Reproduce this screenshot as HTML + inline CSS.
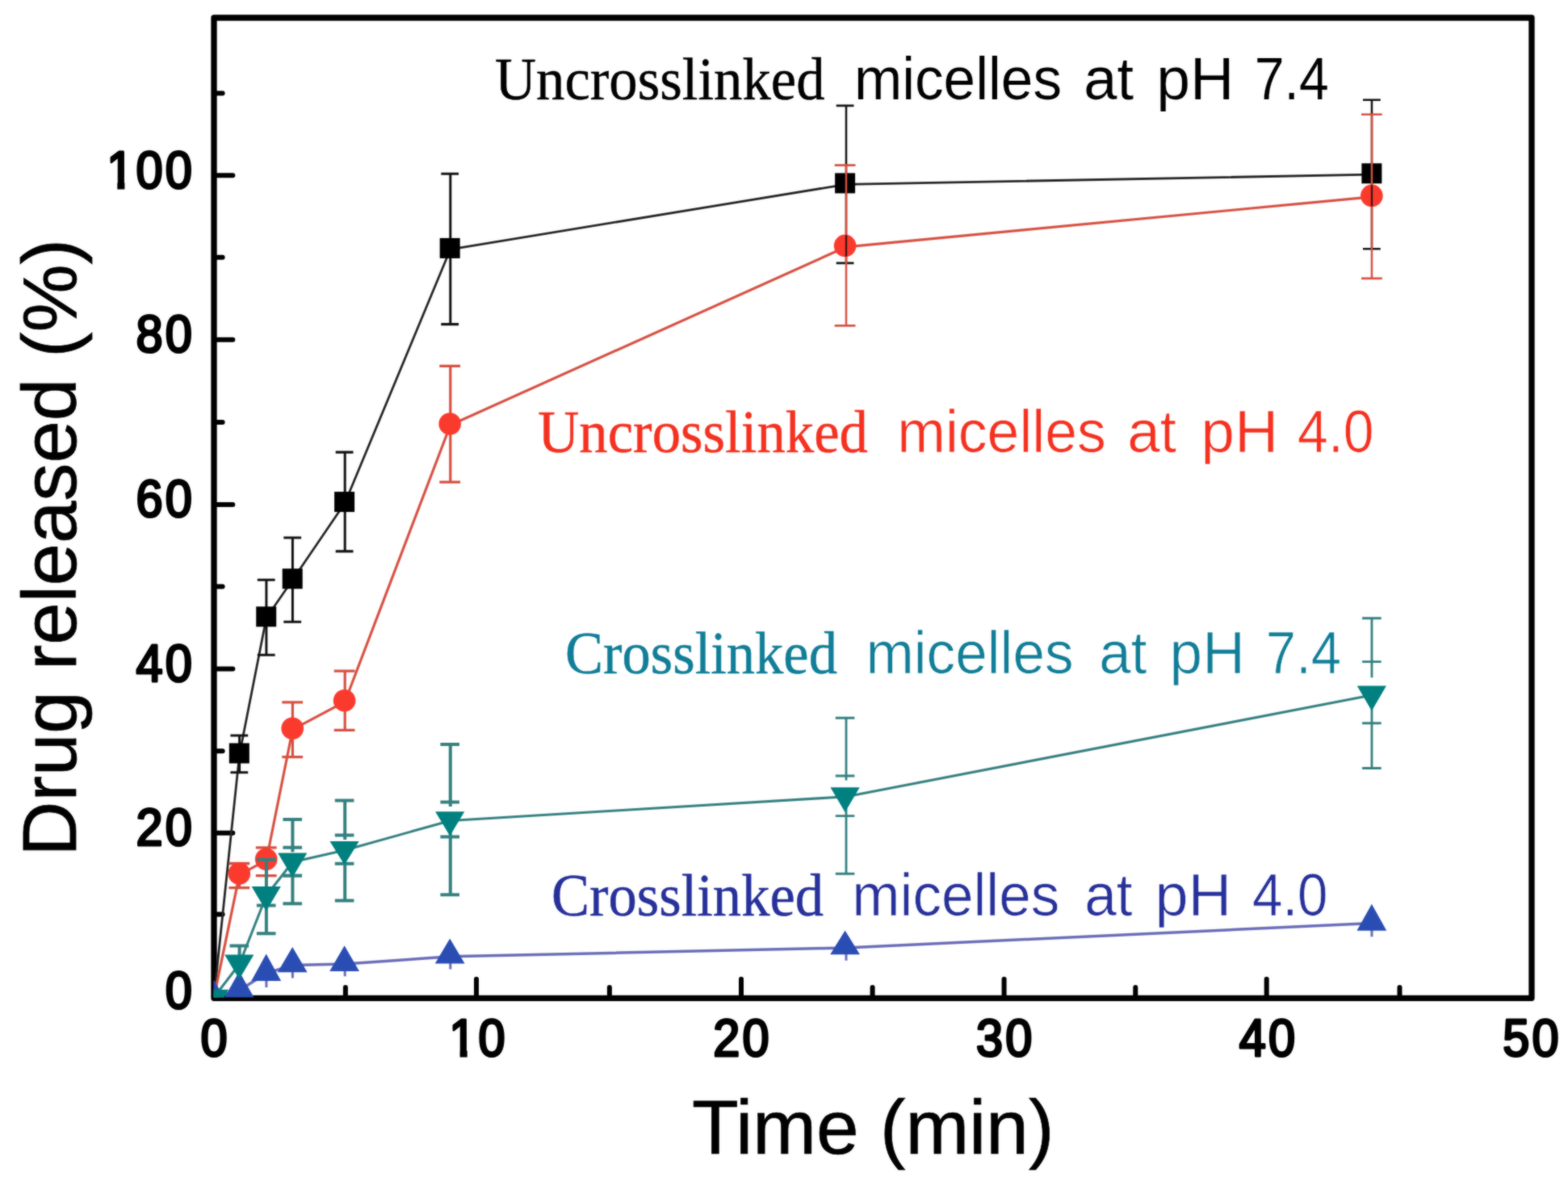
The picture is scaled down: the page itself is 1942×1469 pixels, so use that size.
<!DOCTYPE html>
<html lang="en">
<head>
<meta charset="utf-8">
<title>Drug release profile</title>
<style>
html,body{margin:0;padding:0;background:#fff;}
body{width:1942px;height:1469px;overflow:hidden;}
svg{display:block;}
text{white-space:pre;}
</style>
</head>
<body>
<svg width="1942" height="1469" viewBox="0 0 1942 1469">
<defs><filter id="soft" filterUnits="userSpaceOnUse" x="0" y="0" width="1942" height="1469" color-interpolation-filters="sRGB"><feGaussianBlur stdDeviation="0.8" result="b"/><feComposite in="SourceGraphic" in2="b" operator="arithmetic" k1="0" k2="0.45" k3="0.55" k4="0"/></filter></defs>
<g filter="url(#soft)">
<rect x="0" y="0" width="1942" height="1469" fill="#ffffff"/>
<g id="axes" stroke="#000" fill="none">
<rect x="265.0" y="22.0" width="1632.0" height="1214.3" stroke-width="7.3" stroke-linejoin="round"/>
<line x1="265.0" y1="1031.8" x2="288.3" y2="1031.8" stroke-width="6.0" stroke-linecap="round"/>
<line x1="265.0" y1="828.6" x2="288.3" y2="828.6" stroke-width="6.0" stroke-linecap="round"/>
<line x1="265.0" y1="625.0" x2="288.3" y2="625.0" stroke-width="6.0" stroke-linecap="round"/>
<line x1="265.0" y1="420.8" x2="288.3" y2="420.8" stroke-width="6.0" stroke-linecap="round"/>
<line x1="265.0" y1="217.3" x2="288.3" y2="217.3" stroke-width="6.0" stroke-linecap="round"/>
<line x1="265.0" y1="1132.6" x2="275.6" y2="1132.6" stroke-width="6.0" stroke-linecap="round"/>
<line x1="265.0" y1="930.3" x2="275.6" y2="930.3" stroke-width="6.0" stroke-linecap="round"/>
<line x1="265.0" y1="726.6" x2="275.6" y2="726.6" stroke-width="6.0" stroke-linecap="round"/>
<line x1="265.0" y1="522.9" x2="275.6" y2="522.9" stroke-width="6.0" stroke-linecap="round"/>
<line x1="265.0" y1="318.8" x2="275.6" y2="318.8" stroke-width="6.0" stroke-linecap="round"/>
<line x1="265.0" y1="115.5" x2="275.6" y2="115.5" stroke-width="6.0" stroke-linecap="round"/>
<line x1="590.0" y1="1236.3" x2="590.0" y2="1212.7" stroke-width="6.0" stroke-linecap="round"/>
<line x1="918.0" y1="1236.3" x2="918.0" y2="1212.7" stroke-width="6.0" stroke-linecap="round"/>
<line x1="1243.6" y1="1236.3" x2="1243.6" y2="1212.7" stroke-width="6.0" stroke-linecap="round"/>
<line x1="1568.7" y1="1236.3" x2="1568.7" y2="1212.7" stroke-width="6.0" stroke-linecap="round"/>
<line x1="427.9" y1="1236.3" x2="427.9" y2="1223.0" stroke-width="6.0" stroke-linecap="round"/>
<line x1="754.9" y1="1236.3" x2="754.9" y2="1223.0" stroke-width="6.0" stroke-linecap="round"/>
<line x1="1080.6" y1="1236.3" x2="1080.6" y2="1223.0" stroke-width="6.0" stroke-linecap="round"/>
<line x1="1406.3" y1="1236.3" x2="1406.3" y2="1223.0" stroke-width="6.0" stroke-linecap="round"/>
<line x1="1733.5" y1="1236.3" x2="1733.5" y2="1223.0" stroke-width="6.0" stroke-linecap="round"/>
</g>
<defs><clipPath id="pc"><rect x="264.5" y="0" width="1640" height="1235.4"/></clipPath></defs>
<g id="plot" clip-path="url(#pc)">
<polyline fill="none" stroke="#222222" stroke-width="2.80" stroke-linejoin="round" points="265.0,1235.3 296.6,934.4 329.9,765.2 362.4,718.2 427.2,623.0 557.8,308.8 1048.0,228.3 1699.0,216.2"/>
<polyline fill="none" stroke="#d64f41" stroke-width="3.20" stroke-linejoin="round" points="265.0,1235.3 296.6,1083.4 329.9,1065.7 362.4,903.7 427.2,869.2 557.8,526.5 1048.0,305.8 1699.0,243.8"/>
<polyline fill="none" stroke="#347f7f" stroke-width="3.10" stroke-linejoin="round" points="265.0,1235.3 296.6,1194.0 329.9,1109.3 362.4,1067.8 427.2,1052.9 557.8,1016.5 1048.0,986.7 1699.0,861.1"/>
<polyline fill="none" stroke="#6a6cb8" stroke-width="3.50" stroke-linejoin="round" points="265.0,1235.3 296.6,1226.6 329.9,1205.5 362.4,1195.4 427.2,1194.0 557.8,1184.8 1048.0,1174.0 1699.0,1143.4"/>
<line x1="296.6" y1="911.0" x2="296.6" y2="956.7" stroke="#111111" stroke-width="3.00" stroke-linecap="butt"/>
<line x1="285.4" y1="911.0" x2="307.2" y2="911.0" stroke="#111111" stroke-width="3.10" stroke-linecap="butt"/>
<line x1="285.4" y1="956.7" x2="307.2" y2="956.7" stroke="#111111" stroke-width="3.10" stroke-linecap="butt"/>
<line x1="329.9" y1="718.2" x2="329.9" y2="811.3" stroke="#111111" stroke-width="3.00" stroke-linecap="butt"/>
<line x1="318.8" y1="718.2" x2="340.6" y2="718.2" stroke="#111111" stroke-width="3.10" stroke-linecap="butt"/>
<line x1="318.8" y1="811.3" x2="340.6" y2="811.3" stroke="#111111" stroke-width="3.10" stroke-linecap="butt"/>
<line x1="362.4" y1="666.0" x2="362.4" y2="770.2" stroke="#111111" stroke-width="3.00" stroke-linecap="butt"/>
<line x1="351.3" y1="666.0" x2="373.1" y2="666.0" stroke="#111111" stroke-width="3.10" stroke-linecap="butt"/>
<line x1="351.3" y1="770.2" x2="373.1" y2="770.2" stroke="#111111" stroke-width="3.10" stroke-linecap="butt"/>
<line x1="427.2" y1="560.1" x2="427.2" y2="682.9" stroke="#111111" stroke-width="3.00" stroke-linecap="butt"/>
<line x1="415.7" y1="560.1" x2="437.5" y2="560.1" stroke="#111111" stroke-width="3.10" stroke-linecap="butt"/>
<line x1="415.7" y1="682.9" x2="437.5" y2="682.9" stroke="#111111" stroke-width="3.10" stroke-linecap="butt"/>
<line x1="557.8" y1="215.3" x2="557.8" y2="401.6" stroke="#111111" stroke-width="3.00" stroke-linecap="butt"/>
<line x1="546.3" y1="215.3" x2="568.1" y2="215.3" stroke="#111111" stroke-width="3.10" stroke-linecap="butt"/>
<line x1="546.3" y1="401.6" x2="568.1" y2="401.6" stroke="#111111" stroke-width="3.10" stroke-linecap="butt"/>
<line x1="1048.0" y1="130.9" x2="1048.0" y2="325.9" stroke="#111111" stroke-width="2.50" stroke-linecap="butt"/>
<line x1="1035.7" y1="130.9" x2="1057.5" y2="130.9" stroke="#111111" stroke-width="2.60" stroke-linecap="butt"/>
<line x1="1035.7" y1="325.9" x2="1057.5" y2="325.9" stroke="#111111" stroke-width="2.60" stroke-linecap="butt"/>
<line x1="1699.0" y1="123.8" x2="1699.0" y2="308.3" stroke="#111111" stroke-width="2.50" stroke-linecap="butt"/>
<line x1="1688.0" y1="123.8" x2="1709.8" y2="123.8" stroke="#111111" stroke-width="2.60" stroke-linecap="butt"/>
<line x1="1688.0" y1="308.3" x2="1709.8" y2="308.3" stroke="#111111" stroke-width="2.60" stroke-linecap="butt"/>
<rect x="283.8" y="920.5" width="25.0" height="25.0" fill="#000000"/>
<rect x="317.2" y="751.3" width="25.0" height="25.0" fill="#000000"/>
<rect x="349.7" y="704.3" width="25.0" height="25.0" fill="#000000"/>
<rect x="414.1" y="609.1" width="25.0" height="25.0" fill="#000000"/>
<rect x="544.7" y="294.9" width="25.0" height="25.0" fill="#000000"/>
<rect x="1034.1" y="214.4" width="25.0" height="25.0" fill="#000000"/>
<rect x="1686.4" y="202.3" width="25.0" height="25.0" fill="#000000"/>
<line x1="296.6" y1="1069.5" x2="296.6" y2="1099.6" stroke="#d64f41" stroke-width="3.20" stroke-linecap="butt"/>
<line x1="283.4" y1="1069.5" x2="309.2" y2="1069.5" stroke="#d64f41" stroke-width="3.30" stroke-linecap="butt"/>
<line x1="283.4" y1="1099.6" x2="309.2" y2="1099.6" stroke="#d64f41" stroke-width="3.30" stroke-linecap="butt"/>
<line x1="329.9" y1="1049.8" x2="329.9" y2="1084.6" stroke="#d64f41" stroke-width="3.20" stroke-linecap="butt"/>
<line x1="316.8" y1="1049.8" x2="342.6" y2="1049.8" stroke="#d64f41" stroke-width="3.30" stroke-linecap="butt"/>
<line x1="316.8" y1="1084.6" x2="342.6" y2="1084.6" stroke="#d64f41" stroke-width="3.30" stroke-linecap="butt"/>
<line x1="362.4" y1="869.9" x2="362.4" y2="937.6" stroke="#d64f41" stroke-width="3.20" stroke-linecap="butt"/>
<line x1="349.3" y1="869.9" x2="375.1" y2="869.9" stroke="#d64f41" stroke-width="3.30" stroke-linecap="butt"/>
<line x1="349.3" y1="937.6" x2="375.1" y2="937.6" stroke="#d64f41" stroke-width="3.30" stroke-linecap="butt"/>
<line x1="427.2" y1="831.2" x2="427.2" y2="904.4" stroke="#d64f41" stroke-width="3.20" stroke-linecap="butt"/>
<line x1="413.7" y1="831.2" x2="439.5" y2="831.2" stroke="#d64f41" stroke-width="3.30" stroke-linecap="butt"/>
<line x1="413.7" y1="904.4" x2="439.5" y2="904.4" stroke="#d64f41" stroke-width="3.30" stroke-linecap="butt"/>
<line x1="557.8" y1="453.4" x2="557.8" y2="597.2" stroke="#d64f41" stroke-width="3.20" stroke-linecap="butt"/>
<line x1="544.3" y1="453.4" x2="570.1" y2="453.4" stroke="#d64f41" stroke-width="3.30" stroke-linecap="butt"/>
<line x1="544.3" y1="597.2" x2="570.1" y2="597.2" stroke="#d64f41" stroke-width="3.30" stroke-linecap="butt"/>
<line x1="1048.0" y1="204.6" x2="1048.0" y2="403.4" stroke="#d64f41" stroke-width="2.50" stroke-linecap="butt"/>
<line x1="1033.7" y1="204.6" x2="1059.5" y2="204.6" stroke="#d64f41" stroke-width="2.60" stroke-linecap="butt"/>
<line x1="1033.7" y1="403.4" x2="1059.5" y2="403.4" stroke="#d64f41" stroke-width="2.60" stroke-linecap="butt"/>
<line x1="1699.0" y1="141.8" x2="1699.0" y2="344.9" stroke="#d64f41" stroke-width="2.50" stroke-linecap="butt"/>
<line x1="1686.0" y1="141.8" x2="1711.8" y2="141.8" stroke="#d64f41" stroke-width="2.60" stroke-linecap="butt"/>
<line x1="1686.0" y1="344.9" x2="1711.8" y2="344.9" stroke="#d64f41" stroke-width="2.60" stroke-linecap="butt"/>
<circle cx="296.3" cy="1082.0" r="13.8" fill="#fb3a2e"/>
<circle cx="329.7" cy="1064.3" r="13.8" fill="#fb3a2e"/>
<circle cx="362.2" cy="902.3" r="13.8" fill="#fb3a2e"/>
<circle cx="426.6" cy="867.8" r="13.8" fill="#fb3a2e"/>
<circle cx="557.2" cy="525.1" r="13.8" fill="#fb3a2e"/>
<circle cx="1046.6" cy="304.4" r="13.8" fill="#fb3a2e"/>
<circle cx="1698.9" cy="242.4" r="13.8" fill="#fb3a2e"/>
<line x1="1048.0" y1="291.2" x2="1048.0" y2="317.6" stroke="#3a1210" stroke-width="2.30" stroke-linecap="butt"/>
<line x1="1699.0" y1="229.2" x2="1699.0" y2="255.6" stroke="#3a1210" stroke-width="2.30" stroke-linecap="butt"/>
<polygon points="265.0,1213.8 246.6,1246.3 283.4,1246.3" fill="#2a4db3"/>
<polygon points="296.3,1203.3 277.9,1235.8 314.7,1235.8" fill="#2a4db3"/>
<line x1="329.9" y1="1212.8" x2="329.9" y2="1223.0" stroke="#6a6cb8" stroke-width="3.00" stroke-linecap="butt"/>
<polygon points="329.7,1181.6 311.3,1215.1 348.1,1215.1" fill="#2a4db3"/>
<line x1="362.4" y1="1201.9" x2="362.4" y2="1211.6" stroke="#6a6cb8" stroke-width="3.00" stroke-linecap="butt"/>
<polygon points="362.2,1173.1 343.8,1204.2 380.6,1204.2" fill="#2a4db3"/>
<line x1="427.2" y1="1200.6" x2="427.2" y2="1209.2" stroke="#6a6cb8" stroke-width="3.00" stroke-linecap="butt"/>
<polygon points="426.6,1171.3 408.2,1202.9 445.0,1202.9" fill="#2a4db3"/>
<line x1="557.8" y1="1191.3" x2="557.8" y2="1200.6" stroke="#6a6cb8" stroke-width="3.00" stroke-linecap="butt"/>
<polygon points="557.2,1162.5 538.8,1193.6 575.6,1193.6" fill="#2a4db3"/>
<line x1="1048.0" y1="1180.0" x2="1048.0" y2="1189.8" stroke="#6a6cb8" stroke-width="3.00" stroke-linecap="butt"/>
<polygon points="1046.6,1152.5 1028.2,1182.3 1065.0,1182.3" fill="#2a4db3"/>
<line x1="1699.0" y1="1150.5" x2="1699.0" y2="1160.3" stroke="#6a6cb8" stroke-width="3.00" stroke-linecap="butt"/>
<polygon points="1698.9,1119.8 1680.5,1152.8 1717.3,1152.8" fill="#2a4db3"/>
<line x1="296.6" y1="1171.5" x2="296.6" y2="1182.9" stroke="#347f7f" stroke-width="4.00" stroke-linecap="butt"/>
<line x1="284.5" y1="1171.5" x2="308.1" y2="1171.5" stroke="#347f7f" stroke-width="4.10" stroke-linecap="butt"/>
<line x1="329.9" y1="1064.8" x2="329.9" y2="1098.2" stroke="#347f7f" stroke-width="4.00" stroke-linecap="butt"/>
<line x1="317.9" y1="1064.8" x2="341.5" y2="1064.8" stroke="#347f7f" stroke-width="4.10" stroke-linecap="butt"/>
<line x1="329.9" y1="1123.2" x2="329.9" y2="1156.2" stroke="#347f7f" stroke-width="4.00" stroke-linecap="butt"/>
<line x1="317.9" y1="1156.2" x2="341.5" y2="1156.2" stroke="#347f7f" stroke-width="4.10" stroke-linecap="butt"/>
<line x1="317.9" y1="1121.5" x2="341.5" y2="1121.5" stroke="#347f7f" stroke-width="4.10" stroke-linecap="butt"/>
<line x1="362.4" y1="1015.0" x2="362.4" y2="1055.3" stroke="#347f7f" stroke-width="4.00" stroke-linecap="butt"/>
<line x1="350.4" y1="1015.0" x2="374.0" y2="1015.0" stroke="#347f7f" stroke-width="4.10" stroke-linecap="butt"/>
<line x1="350.4" y1="1049.8" x2="374.0" y2="1049.8" stroke="#347f7f" stroke-width="4.10" stroke-linecap="butt"/>
<line x1="362.4" y1="1081.7" x2="362.4" y2="1119.2" stroke="#347f7f" stroke-width="4.00" stroke-linecap="butt"/>
<line x1="350.4" y1="1119.2" x2="374.0" y2="1119.2" stroke="#347f7f" stroke-width="4.10" stroke-linecap="butt"/>
<line x1="350.4" y1="1084.6" x2="374.0" y2="1084.6" stroke="#347f7f" stroke-width="4.10" stroke-linecap="butt"/>
<line x1="427.2" y1="991.5" x2="427.2" y2="1040.0" stroke="#347f7f" stroke-width="4.00" stroke-linecap="butt"/>
<line x1="414.8" y1="991.5" x2="438.4" y2="991.5" stroke="#347f7f" stroke-width="4.10" stroke-linecap="butt"/>
<line x1="414.8" y1="1034.5" x2="438.4" y2="1034.5" stroke="#347f7f" stroke-width="4.10" stroke-linecap="butt"/>
<line x1="427.2" y1="1066.0" x2="427.2" y2="1115.5" stroke="#347f7f" stroke-width="4.00" stroke-linecap="butt"/>
<line x1="414.8" y1="1115.5" x2="438.4" y2="1115.5" stroke="#347f7f" stroke-width="4.10" stroke-linecap="butt"/>
<line x1="414.8" y1="1069.8" x2="438.4" y2="1069.8" stroke="#347f7f" stroke-width="4.10" stroke-linecap="butt"/>
<line x1="557.8" y1="922.0" x2="557.8" y2="999.0" stroke="#347f7f" stroke-width="4.00" stroke-linecap="butt"/>
<line x1="545.4" y1="922.0" x2="569.0" y2="922.0" stroke="#347f7f" stroke-width="4.10" stroke-linecap="butt"/>
<line x1="545.4" y1="993.5" x2="569.0" y2="993.5" stroke="#347f7f" stroke-width="4.10" stroke-linecap="butt"/>
<line x1="557.8" y1="1030.2" x2="557.8" y2="1108.2" stroke="#347f7f" stroke-width="4.00" stroke-linecap="butt"/>
<line x1="545.4" y1="1108.2" x2="569.0" y2="1108.2" stroke="#347f7f" stroke-width="4.10" stroke-linecap="butt"/>
<line x1="545.4" y1="1036.5" x2="569.0" y2="1036.5" stroke="#347f7f" stroke-width="4.10" stroke-linecap="butt"/>
<line x1="1048.0" y1="889.3" x2="1048.0" y2="966.5" stroke="#347f7f" stroke-width="2.80" stroke-linecap="butt"/>
<line x1="1034.8" y1="889.3" x2="1058.4" y2="889.3" stroke="#347f7f" stroke-width="2.90" stroke-linecap="butt"/>
<line x1="1034.8" y1="961.0" x2="1058.4" y2="961.0" stroke="#347f7f" stroke-width="2.90" stroke-linecap="butt"/>
<line x1="1048.0" y1="1000.8" x2="1048.0" y2="1082.2" stroke="#347f7f" stroke-width="2.80" stroke-linecap="butt"/>
<line x1="1034.8" y1="1082.2" x2="1058.4" y2="1082.2" stroke="#347f7f" stroke-width="2.90" stroke-linecap="butt"/>
<line x1="1034.8" y1="1010.6" x2="1058.4" y2="1010.6" stroke="#347f7f" stroke-width="2.90" stroke-linecap="butt"/>
<line x1="1699.0" y1="765.7" x2="1699.0" y2="839.3" stroke="#347f7f" stroke-width="2.80" stroke-linecap="butt"/>
<line x1="1687.1" y1="765.7" x2="1710.7" y2="765.7" stroke="#347f7f" stroke-width="2.90" stroke-linecap="butt"/>
<line x1="1687.1" y1="819.6" x2="1710.7" y2="819.6" stroke="#347f7f" stroke-width="2.90" stroke-linecap="butt"/>
<line x1="1699.0" y1="875.4" x2="1699.0" y2="951.5" stroke="#347f7f" stroke-width="2.80" stroke-linecap="butt"/>
<line x1="1687.1" y1="951.5" x2="1710.7" y2="951.5" stroke="#347f7f" stroke-width="2.90" stroke-linecap="butt"/>
<line x1="1687.1" y1="895.8" x2="1710.7" y2="895.8" stroke="#347f7f" stroke-width="2.90" stroke-linecap="butt"/>
<polygon points="246.9,1225.7 283.1,1225.7 265.0,1256.2" fill="#00807f"/>
<polygon points="278.2,1182.6 314.4,1182.6 296.3,1213.1" fill="#00807f"/>
<polygon points="311.6,1097.9 347.8,1097.9 329.7,1128.4" fill="#00807f"/>
<polygon points="344.1,1056.4 380.3,1056.4 362.2,1086.9" fill="#00807f"/>
<polygon points="408.5,1041.9 444.7,1041.9 426.6,1071.2" fill="#00807f"/>
<polygon points="539.1,1005.2 575.3,1005.2 557.2,1035.4" fill="#00807f"/>
<polygon points="1028.5,975.3 1064.7,975.3 1046.6,1006.0" fill="#00807f"/>
<polygon points="1680.8,849.5 1717.0,849.5 1698.9,880.6" fill="#00807f"/>
</g>
<g id="ticklabels" font-family='"Liberation Sans", Arial, Helvetica, sans-serif' font-weight="400" font-size="65.4px" fill="#000" stroke="#000000" stroke-width="3.20" stroke-linejoin="round" letter-spacing="3.5">
<text transform="translate(241.0,1248.8) scale(0.910,1)" text-anchor="end">0</text>
<text transform="translate(241.0,1047.3) scale(0.910,1)" text-anchor="end">20</text>
<text transform="translate(241.0,844.0) scale(0.910,1)" text-anchor="end">40</text>
<text transform="translate(241.0,640.3) scale(0.910,1)" text-anchor="end">60</text>
<text transform="translate(241.0,436.2) scale(0.910,1)" text-anchor="end">80</text>
<text transform="translate(241.0,232.6) scale(0.910,1)" text-anchor="end">100</text>
<text transform="translate(266.6,1308.4) scale(0.910,1)" text-anchor="middle">0</text>
<text transform="translate(592.6,1308.4) scale(0.910,1)" text-anchor="middle">10</text>
<text transform="translate(919.6,1308.4) scale(0.910,1)" text-anchor="middle">20</text>
<text transform="translate(1245.2,1308.4) scale(0.910,1)" text-anchor="middle">30</text>
<text transform="translate(1571.1,1308.4) scale(0.910,1)" text-anchor="middle">40</text>
<text transform="translate(1897.6,1308.4) scale(0.910,1)" text-anchor="middle">50</text>
</g>
<rect x="130.8" y="225.8" width="14.5" height="11.4" fill="#ffffff"/>
<rect x="154.4" y="225.8" width="13.0" height="11.4" fill="#ffffff"/>
<rect x="555.1" y="1300.8" width="14.5" height="11.4" fill="#ffffff"/>
<rect x="578.7" y="1300.8" width="13.0" height="11.4" fill="#ffffff"/>
<g id="titles" font-family='"Liberation Sans", Arial, Helvetica, sans-serif' font-size="94.6px" fill="#000" stroke="#000" stroke-width="0.7">
<text x="1081.2" y="1428.6" text-anchor="middle">Time (min)</text>
<text transform="translate(94,678.3) rotate(-90)" text-anchor="middle" font-size="94.2px">Drug released (%)</text>
</g>
<g fill="#000000">
<text x="613.00" y="122.5" font-family='"Liberation Serif", "Times New Roman", Times, serif' font-size="74.0px" textLength="408.51" lengthAdjust="spacingAndGlyphs" stroke="#000000" stroke-width="0.5">Uncrosslinked</text>
<text x="1057.90" y="122.5" font-family='"Liberation Sans", Arial, Helvetica, sans-serif' font-size="74.0px" textLength="257.16" lengthAdjust="spacingAndGlyphs" stroke="#ffffff" stroke-width="0.15">micelles</text>
<text x="1342.37" y="122.5" font-family='"Liberation Sans", Arial, Helvetica, sans-serif' font-size="74.0px" textLength="61.70" lengthAdjust="spacingAndGlyphs" stroke="#ffffff" stroke-width="0.15">at</text>
<text x="1432.18" y="122.5" font-family='"Liberation Sans", Arial, Helvetica, sans-serif' font-size="74.0px" textLength="96.12" lengthAdjust="spacingAndGlyphs" stroke="#ffffff" stroke-width="0.15">pH</text>
<text x="1553.82" y="122.5" font-family='"Liberation Sans", Arial, Helvetica, sans-serif' font-size="74.0px" textLength="92.01" lengthAdjust="spacingAndGlyphs" stroke="#ffffff" stroke-width="0.15">7.4</text>
</g>
<g fill="#f5301f">
<text x="666.19" y="559.7" font-family='"Liberation Serif", "Times New Roman", Times, serif' font-size="74.0px" textLength="408.82" lengthAdjust="spacingAndGlyphs" stroke="#f5301f" stroke-width="0.5">Uncrosslinked</text>
<text x="1111.25" y="559.7" font-family='"Liberation Sans", Arial, Helvetica, sans-serif' font-size="74.0px" textLength="258.62" lengthAdjust="spacingAndGlyphs" stroke="#ffffff" stroke-width="0.70">micelles</text>
<text x="1396.25" y="559.7" font-family='"Liberation Sans", Arial, Helvetica, sans-serif' font-size="74.0px" textLength="60.83" lengthAdjust="spacingAndGlyphs" stroke="#ffffff" stroke-width="0.70">at</text>
<text x="1487.25" y="559.7" font-family='"Liberation Sans", Arial, Helvetica, sans-serif' font-size="74.0px" textLength="96.13" lengthAdjust="spacingAndGlyphs" stroke="#ffffff" stroke-width="0.70">pH</text>
<text x="1607.12" y="559.7" font-family='"Liberation Sans", Arial, Helvetica, sans-serif' font-size="74.0px" textLength="94.62" lengthAdjust="spacingAndGlyphs" stroke="#ffffff" stroke-width="0.70">4.0</text>
</g>
<g fill="#107d97">
<text x="699.97" y="834.2" font-family='"Liberation Serif", "Times New Roman", Times, serif' font-size="74.0px" textLength="336.94" lengthAdjust="spacingAndGlyphs" stroke="#107d97" stroke-width="0.5">Crosslinked</text>
<text x="1072.38" y="834.2" font-family='"Liberation Sans", Arial, Helvetica, sans-serif' font-size="74.0px" textLength="257.28" lengthAdjust="spacingAndGlyphs" stroke="#ffffff" stroke-width="0.70">micelles</text>
<text x="1361.29" y="834.2" font-family='"Liberation Sans", Arial, Helvetica, sans-serif' font-size="74.0px" textLength="59.09" lengthAdjust="spacingAndGlyphs" stroke="#ffffff" stroke-width="0.70">at</text>
<text x="1448.60" y="834.2" font-family='"Liberation Sans", Arial, Helvetica, sans-serif' font-size="74.0px" textLength="93.25" lengthAdjust="spacingAndGlyphs" stroke="#ffffff" stroke-width="0.70">pH</text>
<text x="1567.82" y="834.2" font-family='"Liberation Sans", Arial, Helvetica, sans-serif' font-size="74.0px" textLength="93.30" lengthAdjust="spacingAndGlyphs" stroke="#ffffff" stroke-width="0.70">7.4</text>
</g>
<g fill="#26309a">
<text x="682.96" y="1133.6" font-family='"Liberation Serif", "Times New Roman", Times, serif' font-size="74.0px" textLength="337.05" lengthAdjust="spacingAndGlyphs" stroke="#26309a" stroke-width="0.5">Crosslinked</text>
<text x="1055.28" y="1133.6" font-family='"Liberation Sans", Arial, Helvetica, sans-serif' font-size="74.0px" textLength="257.11" lengthAdjust="spacingAndGlyphs" stroke="#ffffff" stroke-width="0.70">micelles</text>
<text x="1343.16" y="1133.6" font-family='"Liberation Sans", Arial, Helvetica, sans-serif' font-size="74.0px" textLength="59.48" lengthAdjust="spacingAndGlyphs" stroke="#ffffff" stroke-width="0.70">at</text>
<text x="1430.59" y="1133.6" font-family='"Liberation Sans", Arial, Helvetica, sans-serif' font-size="74.0px" textLength="94.48" lengthAdjust="spacingAndGlyphs" stroke="#ffffff" stroke-width="0.70">pH</text>
<text x="1550.91" y="1133.6" font-family='"Liberation Sans", Arial, Helvetica, sans-serif' font-size="74.0px" textLength="93.69" lengthAdjust="spacingAndGlyphs" stroke="#ffffff" stroke-width="0.70">4.0</text>
</g>
</g>
</svg>
</body>
</html>
